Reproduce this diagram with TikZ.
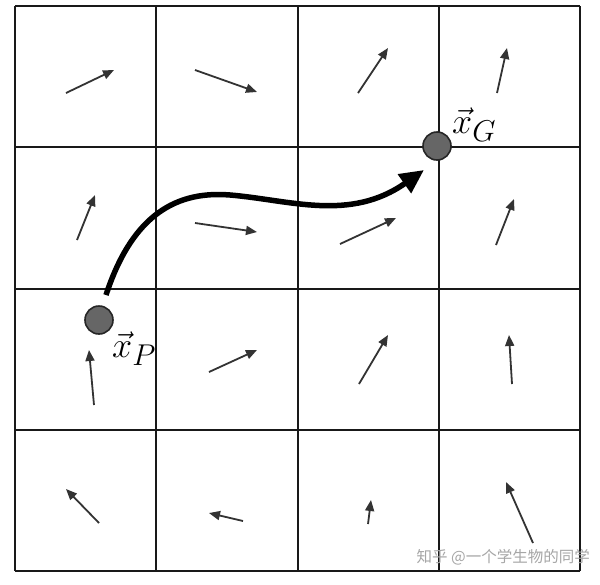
\documentclass[tikz,border=0pt]{standalone}
\usepackage{fontspec}
\newfontfamily\cjk{Noto Sans CJK SC}
\usetikzlibrary{arrows.meta}
\tikzset{
  gridline/.style={line width=2pt, draw=black!90},
  vec/.style={line width=1.8pt, draw=black!80, -{Triangle[length=11pt,width=9pt]}},
  bigarrow/.style={line width=5.5pt, draw=black, -{Triangle[length=24pt,width=22pt]}},
  pt/.style={circle, draw=black!85, line width=1.6pt, fill=black!60, minimum size=28pt, inner sep=0pt},
  lab/.style={inner sep=0pt, font=\fontsize{24.88}{30}\selectfont},
  wm/.style={inner sep=0pt, text=black!35, font=\cjk\fontsize{15.5}{18}\selectfont}
}
\begin{document}
\begin{tikzpicture}[x=1pt,y=-1pt]
\useasboundingbox (0,0) rectangle (600,584);
\fill[white] (0,0) rectangle (600,584);
% grid
\foreach \i in {0,1,2,3,4}{
  \draw[gridline] (15+141.25*\i,6) -- (15+141.25*\i,571);
  \draw[gridline] (15,6+141.25*\i) -- (580,6+141.25*\i);
}
% vector field arrows
\draw[vec] (66,93) -- (114,70);
\draw[vec] (195,70) -- (257,92);
\draw[vec] (358,93) -- (388,48);
\draw[vec] (497,93) -- (507,48);
\draw[vec] (77,240) -- (95,195);
\draw[vec] (195,223) -- (257,232);
\draw[vec] (340,244) -- (396,218);
\draw[vec] (496,245) -- (514,199);
\draw[vec] (94,405) -- (89,350);
\draw[vec] (209,372) -- (257,350);
\draw[vec] (359,384) -- (388,335);
\draw[vec] (512,384) -- (509,335);
\draw[vec] (99,523) -- (66,489);
\draw[vec] (243,521) -- (209,513);
\draw[vec] (368,524) -- (371,500);
\draw[vec] (533,543) -- (506,482);
% points
\node[pt] (P) at (99,320) {};
\node[pt] (G) at (437,146) {};
\node[lab, anchor=west] (LP) at (112,349) {\scalebox{1.45}{$\vec{x}_{P}$}};
\node[lab, anchor=west] (LG) at (452,125) {\scalebox{1.45}{$\vec{x}_{G}$}};
% path
\coordinate (S) at (106,295);
\coordinate (E) at (424,170);
\draw[bigarrow] (S) .. controls (130,222) and (170,190) .. (230,195)
                    .. controls (290,200) and (350,222) .. (E);
% watermark
\node[wm, anchor=east] (W) at (590,557) {知乎 @一个学生物的同学};
\end{tikzpicture}
\end{document}
